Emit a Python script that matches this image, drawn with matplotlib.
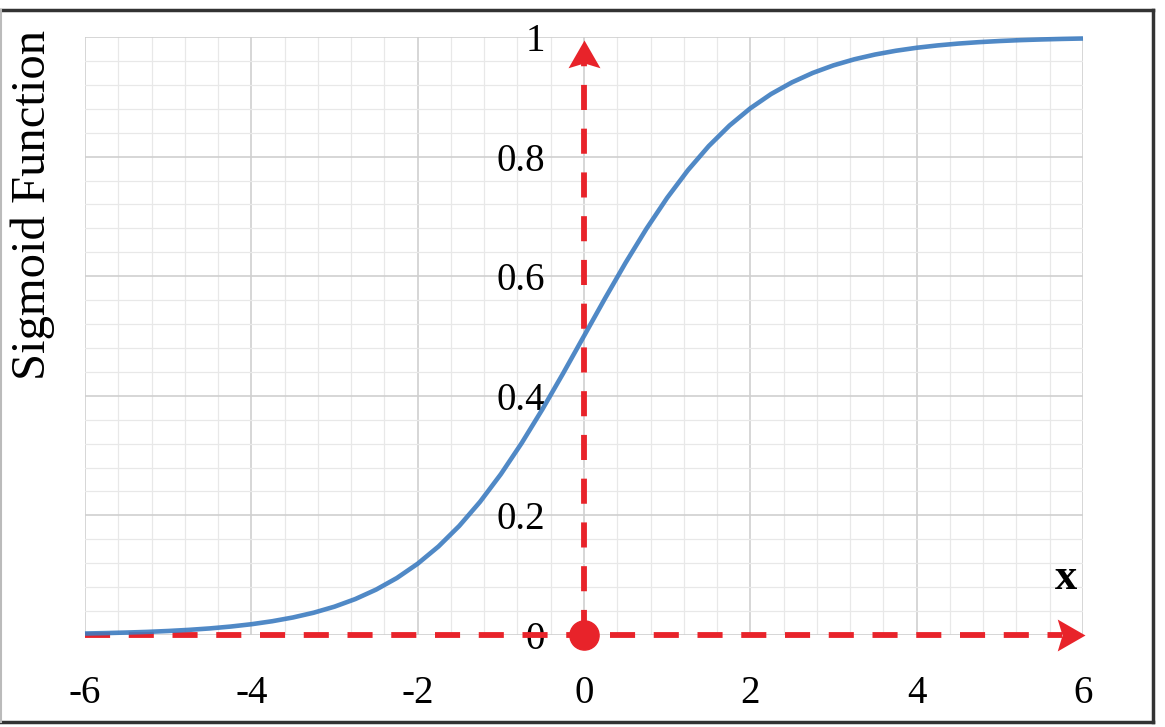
import matplotlib
matplotlib.use("Agg")
import matplotlib.pyplot as plt
from matplotlib.lines import Line2D
from matplotlib.path import Path
from matplotlib.ticker import MultipleLocator

# ---- data ----
x_vals = [-6.0, -5.75, -5.5, -5.25, -5.0, -4.75, -4.5, -4.25, -4.0, -3.75, -3.5, -3.25,
          -3.0, -2.75, -2.5, -2.25, -2.0, -1.75, -1.5, -1.25, -1.0, -0.75, -0.5, -0.25,
          0.0, 0.25, 0.5, 0.75, 1.0, 1.25, 1.5, 1.75, 2.0, 2.25, 2.5, 2.75,
          3.0, 3.25, 3.5, 3.75, 4.0, 4.25, 4.5, 4.75, 5.0, 5.25, 5.5, 5.75, 6.0]
y_vals = [0.0025, 0.0032, 0.0041, 0.0052, 0.0067, 0.0086, 0.0110, 0.0141, 0.0180, 0.0230,
          0.0293, 0.0373, 0.0474, 0.0601, 0.0759, 0.0953, 0.1192, 0.1480, 0.1824, 0.2227,
          0.2689, 0.3208, 0.3775, 0.4378, 0.5000, 0.5622, 0.6225, 0.6792, 0.7311, 0.7773,
          0.8176, 0.8520, 0.8808, 0.9047, 0.9241, 0.9399, 0.9526, 0.9627, 0.9707, 0.9770,
          0.9820, 0.9859, 0.9890, 0.9914, 0.9933, 0.9948, 0.9959, 0.9968, 0.9975]
x_ticks = [-6, -4, -2, 0, 2, 4, 6]
x_tick_labels = ["-6", "-4", "-2", "0", "2", "4", "6"]
y_ticks = [0, 0.2, 0.4, 0.6, 0.8, 1]
y_tick_labels = ["0", "0.2", "0.4", "0.6", "0.8", "1"]
x_range = [-6, 6]
y_range = [0, 1]
origin = [0, 0]
y_label = "Sigmoid Function"
x_name = "x"

plt.rcParams['font.family'] = ['Liberation Serif', 'DejaVu Serif']

RED = "#e8232a"
BLUE = "#3d7cc0"

fig = plt.figure(figsize=(11.65, 7.27), dpi=100)
ax = fig.add_axes([85/1165, 1-635/727, (1083-85)/1165, (635-37)/727])
ax.set_xlim(*x_range)
ax.set_ylim(*y_range)

# grid
ax.xaxis.set_minor_locator(MultipleLocator(0.4))
ax.yaxis.set_minor_locator(MultipleLocator(0.04))
ax.set_xticks(x_ticks)
ax.set_xticklabels(x_tick_labels)
ax.set_yticks(y_ticks)
ax.set_yticklabels(y_tick_labels)
ax.grid(True, which='major', color='#cfcfcf', linewidth=1.2)
ax.grid(True, which='minor', color='#e8e8e8', linewidth=0.9)
ax.set_axisbelow(True)
for s in ['top', 'right', 'bottom']:
    ax.spines[s].set_visible(False)
ax.spines['left'].set_position(('data', origin[0]))
ax.spines['left'].set_visible(False)
ax.tick_params(which='both', length=0)
ax.tick_params(axis='x', labelsize=28, pad=29)
ax.tick_params(axis='y', labelsize=28, pad=28)
for lab in ax.get_yticklabels():
    lab.set_zorder(5)

# notched arrowhead markers (tip at marker origin)
right_head = Path([(0, 0), (-2, 1.15), (-1.65, 0), (-2, -1.15), (0, 0)],
                  [Path.MOVETO, Path.LINETO, Path.LINETO, Path.LINETO, Path.CLOSEPOLY])
up_head = Path([(0, 0), (1.15, -2), (0, -1.65), (-1.15, -2), (0, 0)],
               [Path.MOVETO, Path.LINETO, Path.LINETO, Path.LINETO, Path.CLOSEPOLY])

# red dashed axes with arrowheads
dash_lw = 4.2
ax.plot([x_range[0], x_range[1] - 0.25], [origin[1], origin[1]], color=RED, lw=dash_lw,
        dashes=(4.3, 3.2), zorder=3, dash_capstyle='butt', clip_on=False)
ax.plot([origin[0], origin[0]], [origin[1], y_range[1] - 0.04], color=RED, lw=dash_lw,
        dashes=(4.3, 3.2), zorder=3, dash_capstyle='butt', clip_on=False)
ax.plot([x_range[1] + 0.02], [origin[1]], marker=right_head, markersize=40, color=RED,
        markeredgewidth=0, zorder=4, clip_on=False)
ax.plot([origin[0]], [y_range[1] - 0.005], marker=up_head, markersize=40, color=RED,
        markeredgewidth=0, zorder=4, clip_on=False)
ax.plot([origin[0]], [origin[1]], 'o', color=RED, markersize=21, zorder=6, clip_on=False)

# sigmoid curve
ax.plot(x_vals, y_vals, color=BLUE, lw=3.3, zorder=5, alpha=0.9, clip_on=False,
        solid_capstyle='butt')

# x label
ax.text(5.8, 0.095, x_name, fontsize=32, fontweight='bold', ha='center', va='center')

# y label
fig.text(33/1165, 1-205/727, y_label, rotation=90, fontsize=35, ha='center', va='center')

# figure frame
fig.add_artist(Line2D([0, 1153/1165], [1-10/727, 1-10/727], transform=fig.transFigure,
                      color='#333333', lw=2.5))
fig.add_artist(Line2D([0, 1153/1165], [1-722/727, 1-722/727], transform=fig.transFigure,
                      color='#333333', lw=2.5))
fig.add_artist(Line2D([1153/1165, 1153/1165], [1-722/727, 1-10/727], transform=fig.transFigure,
                      color='#333333', lw=2.5))
fig.add_artist(Line2D([1/1165, 1/1165], [1-722/727, 1-10/727], transform=fig.transFigure,
                      color='#bbbbbb', lw=1.5))

fig.savefig("out.png", dpi=100)
